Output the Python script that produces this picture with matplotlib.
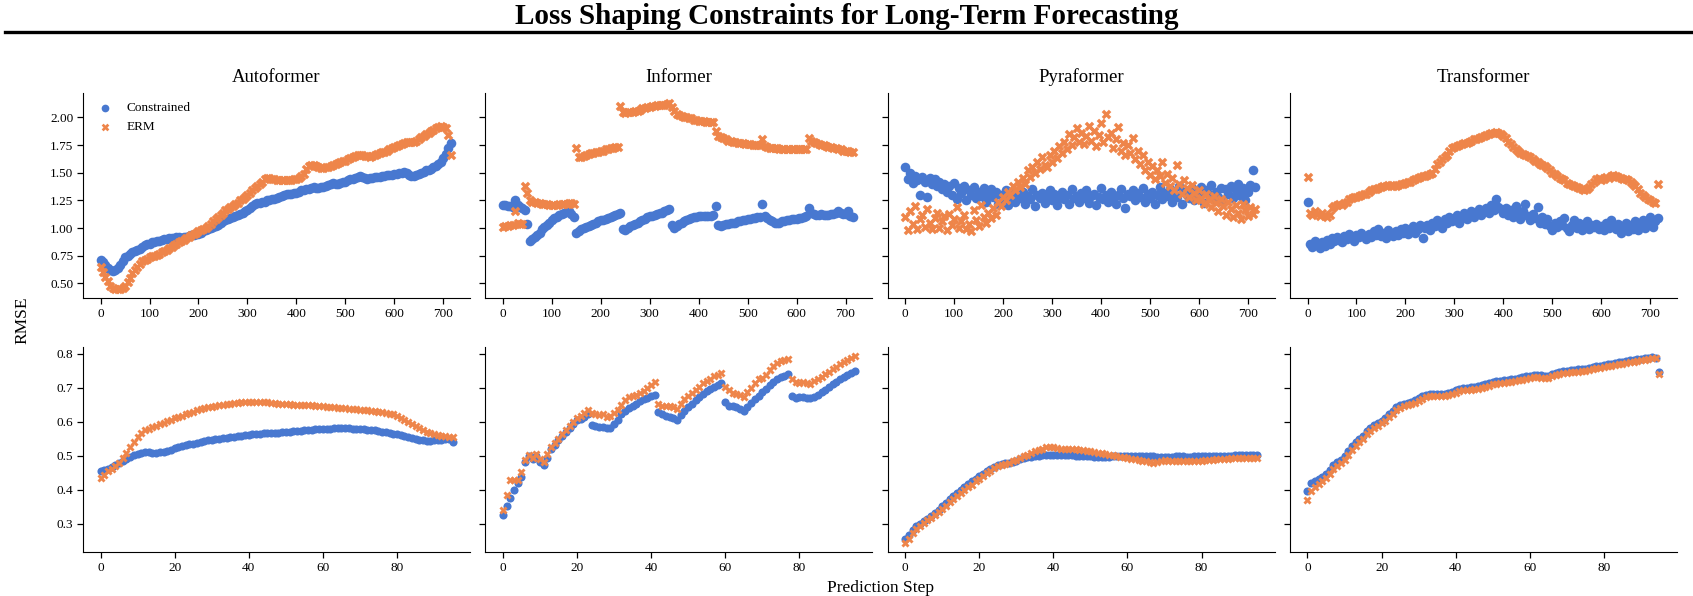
import numpy as np
import matplotlib
matplotlib.use("Agg")
import matplotlib.pyplot as plt
from matplotlib.lines import Line2D

plt.rcParams['font.family'] = ['Liberation Serif', 'DejaVu Serif']

# colours (seaborn "muted")
BLUE = "#4878d0"
ORANGE = "#ee854a"

models = ["Autoformer", "Informer", "Pyraformer", "Transformer"]

steps_long = np.arange(0, 720, 5)

af_long_con = [
    0.71, 0.69, 0.67, 0.64, 0.62, 0.61, 0.62, 0.64, 0.67, 0.70, 0.74, 0.75,
    0.77, 0.78, 0.79, 0.80, 0.81, 0.83, 0.85, 0.86, 0.86, 0.87, 0.87, 0.88,
    0.88, 0.89, 0.90, 0.90, 0.91, 0.91, 0.90, 0.92, 0.92, 0.91, 0.92, 0.92,
    0.93, 0.94, 0.94, 0.95, 0.95, 0.96, 0.97, 0.98, 0.99, 1.00, 1.01, 1.02,
    1.03, 1.05, 1.06, 1.07, 1.08, 1.09, 1.10, 1.11, 1.12, 1.13, 1.14, 1.15,
    1.16, 1.18, 1.20, 1.22, 1.23, 1.23, 1.24, 1.24, 1.25, 1.25, 1.26, 1.26,
    1.27, 1.28, 1.29, 1.30, 1.31, 1.31, 1.31, 1.32, 1.32, 1.33, 1.34, 1.34,
    1.35, 1.35, 1.36, 1.37, 1.36, 1.36, 1.37, 1.37, 1.38, 1.39, 1.40, 1.41,
    1.40, 1.40, 1.41, 1.42, 1.42, 1.43, 1.44, 1.44, 1.45, 1.46, 1.47, 1.46,
    1.45, 1.44, 1.45, 1.45, 1.46, 1.46, 1.46, 1.47, 1.47, 1.48, 1.48, 1.48,
    1.49, 1.49, 1.50, 1.50, 1.51, 1.50, 1.48, 1.47, 1.47, 1.48, 1.49, 1.50,
    1.51, 1.52, 1.52, 1.53, 1.55, 1.56, 1.58, 1.60, 1.63, 1.67, 1.72, 1.77,
]
af_long_erm = [
    0.65, 0.60, 0.56, 0.52, 0.48, 0.46, 0.45, 0.45, 0.45, 0.46, 0.48, 0.51,
    0.55, 0.59, 0.62, 0.65, 0.68, 0.70, 0.71, 0.72, 0.74, 0.75, 0.75, 0.76,
    0.77, 0.78, 0.79, 0.80, 0.82, 0.83, 0.85, 0.86, 0.87, 0.88, 0.89, 0.91,
    0.92, 0.94, 0.95, 0.96, 0.97, 0.98, 0.99, 1.00, 1.02, 1.04, 1.06, 1.08,
    1.10, 1.12, 1.14, 1.16, 1.17, 1.19, 1.20, 1.22, 1.23, 1.25, 1.26, 1.28,
    1.30, 1.32, 1.34, 1.36, 1.38, 1.40, 1.42, 1.44, 1.45, 1.45, 1.44, 1.44,
    1.43, 1.43, 1.43, 1.43, 1.43, 1.43, 1.43, 1.44, 1.44, 1.45, 1.47, 1.49,
    1.53, 1.56, 1.57, 1.57, 1.56, 1.55, 1.54, 1.54, 1.55, 1.55, 1.56, 1.57,
    1.58, 1.59, 1.60, 1.61, 1.61, 1.62, 1.63, 1.64, 1.65, 1.66, 1.66, 1.66,
    1.65, 1.65, 1.64, 1.65, 1.66, 1.67, 1.68, 1.69, 1.69, 1.70, 1.71, 1.72,
    1.73, 1.74, 1.75, 1.76, 1.77, 1.78, 1.78, 1.78, 1.78, 1.79, 1.80, 1.82,
    1.83, 1.85, 1.86, 1.88, 1.89, 1.90, 1.91, 1.92, 1.91, 1.90, 1.84, 1.66,
]

inf_long_con = [
    1.21, 1.21, 1.20, 1.20, 1.19, 1.25, 1.21, 1.19, 1.18, 1.16, 1.04, 0.88,
    0.90, 0.92, 0.94, 0.96, 0.99, 1.01, 1.03, 1.05, 1.07, 1.09, 1.10, 1.12,
    1.13, 1.14, 1.15, 1.15, 1.13, 1.10, 0.96, 0.97, 0.99, 1.00, 1.01, 1.02,
    1.03, 1.04, 1.05, 1.06, 1.07, 1.07, 1.08, 1.09, 1.10, 1.11, 1.12, 1.13,
    1.14, 0.99, 0.98, 1.00, 1.02, 1.03, 1.04, 1.05, 1.06, 1.07, 1.08, 1.10,
    1.11, 1.11, 1.12, 1.13, 1.14, 1.14, 1.15, 1.16, 1.17, 1.03, 1.00, 1.02,
    1.04, 1.05, 1.06, 1.07, 1.08, 1.09, 1.10, 1.10, 1.11, 1.11, 1.11, 1.11,
    1.11, 1.11, 1.12, 1.20, 1.03, 1.02, 1.03, 1.04, 1.04, 1.05, 1.05, 1.05,
    1.06, 1.06, 1.07, 1.07, 1.08, 1.08, 1.09, 1.09, 1.10, 1.10, 1.22, 1.11,
    1.09, 1.07, 1.06, 1.05, 1.05, 1.05, 1.06, 1.06, 1.07, 1.07, 1.08, 1.08,
    1.08, 1.09, 1.09, 1.10, 1.11, 1.18, 1.14, 1.13, 1.12, 1.12, 1.13, 1.12,
    1.12, 1.12, 1.13, 1.13, 1.14, 1.15, 1.14, 1.13, 1.13, 1.15, 1.11, 1.10,
]
inf_long_erm = [
    1.01, 1.02, 1.02, 1.03, 1.03, 1.15, 1.05, 1.04, 1.04, 1.38, 1.32, 1.25,
    1.24, 1.24, 1.23, 1.23, 1.22, 1.22, 1.22, 1.21, 1.21, 1.21, 1.21, 1.22,
    1.22, 1.22, 1.22, 1.23, 1.23, 1.22, 1.72, 1.64, 1.64, 1.65, 1.66, 1.67,
    1.68, 1.68, 1.69, 1.69, 1.70, 1.70, 1.71, 1.71, 1.72, 1.72, 1.73, 1.73,
    2.10, 2.05, 2.04, 2.05, 2.05, 2.05, 2.06, 2.06, 2.07, 2.08, 2.08, 2.09,
    2.09, 2.10, 2.10, 2.11, 2.11, 2.11, 2.11, 2.12, 2.13, 2.09, 2.06, 2.03,
    2.02, 2.01, 2.00, 2.00, 1.99, 1.99, 1.98, 1.98, 1.97, 1.97, 1.97, 1.96,
    1.96, 1.96, 1.96, 1.88, 1.83, 1.82, 1.81, 1.80, 1.79, 1.79, 1.78, 1.78,
    1.77, 1.77, 1.77, 1.76, 1.76, 1.76, 1.75, 1.75, 1.75, 1.75, 1.80, 1.74,
    1.73, 1.72, 1.72, 1.72, 1.72, 1.71, 1.71, 1.71, 1.71, 1.71, 1.71, 1.71,
    1.71, 1.71, 1.71, 1.71, 1.71, 1.81, 1.79, 1.78, 1.77, 1.76, 1.75, 1.75,
    1.74, 1.73, 1.73, 1.72, 1.72, 1.71, 1.71, 1.70, 1.70, 1.70, 1.69, 1.69,
]

pyr_long_con = [
    1.55, 1.44, 1.50, 1.41, 1.47, 1.43, 1.30, 1.46, 1.42, 1.28, 1.45, 1.40,
    1.44, 1.38, 1.42, 1.35, 1.40, 1.33, 1.38, 1.30, 1.41, 1.26, 1.36, 1.32,
    1.38, 1.25, 1.34, 1.30, 1.37, 1.27, 1.33, 1.29, 1.36, 1.24, 1.31, 1.35,
    1.28, 1.33, 1.22, 1.30, 1.26, 1.34, 1.21, 1.29, 1.32, 1.24, 1.30, 1.27,
    1.33, 1.22, 1.29, 1.26, 1.35, 1.20, 1.30, 1.27, 1.32, 1.23, 1.29, 1.34,
    1.25, 1.31, 1.21, 1.28, 1.33, 1.26, 1.30, 1.22, 1.35, 1.27, 1.29, 1.24,
    1.32, 1.27, 1.34, 1.23, 1.29, 1.31, 1.21, 1.28, 1.36, 1.26, 1.30, 1.24,
    1.33, 1.28, 1.22, 1.30, 1.35, 1.27, 1.18, 1.31, 1.29, 1.34, 1.25, 1.32,
    1.28, 1.36, 1.24, 1.31, 1.27, 1.33, 1.22, 1.30, 1.37, 1.26, 1.32, 1.29,
    1.35, 1.24, 1.31, 1.28, 1.38, 1.22, 1.33, 1.30, 1.27, 1.36, 1.25, 1.32,
    1.29, 1.37, 1.23, 1.34, 1.31, 1.39, 1.26, 1.33, 1.28, 1.36, 1.24, 1.35,
    1.31, 1.38, 1.27, 1.34, 1.40, 1.29, 1.36, 1.25, 1.33, 1.39, 1.52, 1.37,
]
pyr_long_erm = [
    1.10, 0.98, 1.15, 1.04, 1.20, 0.99, 1.08, 1.12, 1.01, 1.17, 1.05, 0.99,
    1.09, 1.14, 1.00, 1.06, 1.11, 0.98, 1.13, 1.03, 1.08, 1.19, 1.00, 1.06,
    1.12, 0.99, 1.04, 0.97, 1.16, 1.07, 1.02, 1.21, 1.10, 1.05, 1.14, 1.09,
    1.18, 1.12, 1.24, 1.20, 1.28, 1.25, 1.33, 1.30, 1.38, 1.34, 1.42, 1.37,
    1.45, 1.40, 1.52, 1.46, 1.55, 1.50, 1.60, 1.53, 1.64, 1.57, 1.55, 1.66,
    1.60, 1.70, 1.63, 1.74, 1.68, 1.78, 1.71, 1.85, 1.75, 1.82, 1.90, 1.78,
    1.86, 1.76, 1.83, 1.92, 1.79, 1.88, 1.74, 1.84, 1.95, 1.78, 2.03, 1.82,
    1.86, 1.72, 1.80, 1.91, 1.70, 1.77, 1.66, 1.75, 1.68, 1.81, 1.62, 1.70,
    1.58, 1.66, 1.52, 1.60, 1.48, 1.56, 1.44, 1.52, 1.47, 1.60, 1.41, 1.49,
    1.38, 1.45, 1.34, 1.57, 1.40, 1.31, 1.43, 1.36, 1.28, 1.39, 1.32, 1.25,
    1.34, 1.27, 1.22, 1.31, 1.25, 1.19, 1.29, 1.23, 1.15, 1.26, 1.20, 1.12,
    1.24, 1.17, 1.10, 1.21, 1.14, 1.08, 1.22, 1.16, 1.11, 1.19, 1.13, 1.17,
]

tr_long_con = [
    1.24, 0.86, 0.83, 0.88, 0.85, 0.82, 0.87, 0.84, 0.89, 0.86, 0.91, 0.88,
    0.92, 0.89, 0.87, 0.93, 0.90, 0.95, 0.91, 0.88, 0.94, 0.92, 0.96, 0.93,
    0.90, 0.95, 0.92, 0.97, 0.94, 0.99, 0.93, 0.96, 0.91, 0.98, 0.95, 0.93,
    0.97, 0.94, 0.99, 0.96, 1.00, 0.95, 0.98, 1.02, 0.96, 0.99, 1.03, 0.91,
    1.00, 1.03, 0.98, 1.05, 1.02, 1.07, 1.04, 1.00, 1.08, 1.05, 1.10, 1.06,
    1.09, 1.12, 1.05, 1.10, 1.14, 1.08, 1.12, 1.15, 1.10, 1.13, 1.17, 1.12,
    1.15, 1.18, 1.14, 1.21, 1.16, 1.26, 1.19, 1.17, 1.14, 1.18, 1.12, 1.16,
    1.10, 1.20, 1.13, 1.08, 1.15, 1.22, 1.11, 1.07, 1.13, 1.09, 1.19, 1.05,
    1.10, 1.04, 1.08, 1.02, 0.98, 1.05, 1.01, 1.06, 1.03, 1.09, 1.00, 0.97,
    1.03, 1.07, 1.00, 1.05, 0.98, 1.02, 1.06, 0.99, 1.03, 1.01, 1.04, 0.99,
    1.02, 0.98, 1.05, 1.00, 1.07, 1.02, 0.99, 1.04, 0.96, 1.01, 1.05, 0.97,
    1.03, 0.99, 1.06, 0.98, 1.02, 1.07, 1.00, 1.04, 1.10, 1.01, 1.06, 1.09,
]
tr_long_erm = [
    1.46, 1.14, 1.12, 1.15, 1.13, 1.11, 1.14, 1.12, 1.10, 1.12, 1.18, 1.20,
    1.21, 1.22, 1.21, 1.23, 1.24, 1.26, 1.27, 1.28, 1.28, 1.29, 1.30, 1.31,
    1.31, 1.33, 1.34, 1.35, 1.35, 1.36, 1.37, 1.38, 1.38, 1.39, 1.39, 1.38,
    1.38, 1.39, 1.40, 1.40, 1.41, 1.42, 1.42, 1.43, 1.44, 1.45, 1.46, 1.47,
    1.47, 1.48, 1.49, 1.50, 1.53, 1.58, 1.60, 1.62, 1.64, 1.66, 1.70, 1.72,
    1.73, 1.74, 1.75, 1.76, 1.77, 1.77, 1.78, 1.79, 1.80, 1.80, 1.81, 1.82,
    1.83, 1.84, 1.85, 1.86, 1.86, 1.87, 1.86, 1.85, 1.83, 1.81, 1.78, 1.76,
    1.73, 1.71, 1.70, 1.68, 1.67, 1.66, 1.65, 1.64, 1.62, 1.61, 1.60, 1.58,
    1.57, 1.56, 1.54, 1.52, 1.50, 1.49, 1.47, 1.45, 1.44, 1.43, 1.41, 1.40,
    1.39, 1.38, 1.37, 1.36, 1.35, 1.34, 1.35, 1.37, 1.40, 1.42, 1.44, 1.45,
    1.43, 1.44, 1.46, 1.45, 1.47, 1.48, 1.47, 1.46, 1.45, 1.44, 1.44, 1.43,
    1.42, 1.40, 1.38, 1.35, 1.32, 1.30, 1.28, 1.26, 1.25, 1.24, 1.23, 1.40,
]

# short horizon (96 steps), every step
steps_short = np.arange(96)

af_short_con = [
    0.455, 0.458, 0.462, 0.466, 0.472, 0.478, 0.484, 0.490, 0.496, 0.502,
    0.507, 0.510, 0.511, 0.511, 0.510, 0.510, 0.511, 0.512, 0.514, 0.518,
    0.522, 0.525, 0.528, 0.531, 0.534, 0.536, 0.539, 0.541, 0.544, 0.546,
    0.548, 0.549, 0.551, 0.552, 0.554, 0.555, 0.557, 0.558, 0.560, 0.561,
    0.562, 0.563, 0.564, 0.565, 0.566, 0.567, 0.567, 0.568, 0.568, 0.569,
    0.570, 0.571, 0.572, 0.573, 0.574, 0.575, 0.576, 0.577, 0.578, 0.579,
    0.579, 0.580, 0.580, 0.581, 0.581, 0.581, 0.581, 0.581, 0.580, 0.580,
    0.579, 0.578, 0.577, 0.576, 0.575, 0.573, 0.571, 0.569, 0.567, 0.565,
    0.563, 0.561, 0.558, 0.556, 0.553, 0.550, 0.548, 0.546, 0.545, 0.545,
    0.546, 0.547, 0.548, 0.549, 0.550, 0.540,
]
af_short_erm = [
    0.435, 0.445, 0.455, 0.462, 0.470, 0.480, 0.495, 0.510, 0.525, 0.540,
    0.555, 0.566, 0.575, 0.580, 0.585, 0.589, 0.593, 0.598, 0.602, 0.606,
    0.610, 0.614, 0.618, 0.622, 0.626, 0.630, 0.634, 0.638, 0.641, 0.643,
    0.645, 0.647, 0.649, 0.651, 0.652, 0.653, 0.655, 0.656, 0.657, 0.657,
    0.658, 0.658, 0.658, 0.658, 0.657, 0.657, 0.656, 0.655, 0.654, 0.653,
    0.652, 0.652, 0.651, 0.651, 0.650, 0.650, 0.649, 0.649, 0.648, 0.647,
    0.646, 0.645, 0.644, 0.643, 0.642, 0.641, 0.640, 0.639, 0.638, 0.637,
    0.636, 0.635, 0.634, 0.633, 0.632, 0.630, 0.628, 0.626, 0.624, 0.622,
    0.618, 0.612, 0.606, 0.600, 0.594, 0.588, 0.582, 0.576, 0.571, 0.567,
    0.564, 0.562, 0.560, 0.558, 0.557, 0.556,
]

inf_short_con = [
    0.327, 0.352, 0.375, 0.400, 0.419, 0.437, 0.482, 0.499, 0.492, 0.499,
    0.482, 0.472, 0.494, 0.519, 0.533, 0.546, 0.558, 0.570, 0.582, 0.595,
    0.605, 0.609, 0.615, 0.622, 0.592, 0.587, 0.585, 0.585, 0.582, 0.582,
    0.595, 0.607, 0.622, 0.631, 0.641, 0.648, 0.654, 0.661, 0.666, 0.671,
    0.675, 0.680, 0.629, 0.622, 0.617, 0.615, 0.610, 0.605, 0.619, 0.631,
    0.644, 0.654, 0.664, 0.674, 0.682, 0.690, 0.697, 0.703, 0.708, 0.713,
    0.658, 0.646, 0.646, 0.644, 0.638, 0.631, 0.644, 0.656, 0.668, 0.677,
    0.687, 0.697, 0.707, 0.717, 0.725, 0.731, 0.736, 0.740, 0.677, 0.671,
    0.673, 0.673, 0.671, 0.669, 0.673, 0.680, 0.688, 0.695, 0.703, 0.710,
    0.718, 0.725, 0.732, 0.738, 0.744, 0.749,
]
inf_short_erm = [
    0.340, 0.384, 0.428, 0.428, 0.430, 0.452, 0.489, 0.502, 0.494, 0.506,
    0.491, 0.481, 0.506, 0.525, 0.538, 0.550, 0.563, 0.576, 0.587, 0.599,
    0.610, 0.617, 0.626, 0.636, 0.626, 0.622, 0.620, 0.622, 0.615, 0.617,
    0.625, 0.634, 0.651, 0.664, 0.673, 0.676, 0.680, 0.685, 0.692, 0.700,
    0.708, 0.717, 0.654, 0.648, 0.646, 0.646, 0.644, 0.638, 0.654, 0.668,
    0.675, 0.685, 0.693, 0.703, 0.713, 0.720, 0.727, 0.734, 0.739, 0.744,
    0.703, 0.693, 0.685, 0.683, 0.678, 0.674, 0.687, 0.700, 0.715, 0.725,
    0.729, 0.739, 0.752, 0.764, 0.774, 0.778, 0.783, 0.786, 0.725, 0.717,
    0.715, 0.717, 0.715, 0.712, 0.720, 0.726, 0.733, 0.740, 0.748, 0.755,
    0.762, 0.769, 0.776, 0.782, 0.788, 0.793,
]

pyr_short_con = [
    0.256, 0.268, 0.283, 0.293, 0.300, 0.308, 0.316, 0.324, 0.332, 0.342,
    0.352, 0.362, 0.372, 0.382, 0.392, 0.401, 0.410, 0.418, 0.425, 0.433,
    0.440, 0.448, 0.455, 0.461, 0.467, 0.472, 0.475, 0.478, 0.480, 0.483,
    0.486, 0.490, 0.494, 0.496, 0.498, 0.499, 0.501, 0.503, 0.504, 0.504,
    0.504, 0.504, 0.503, 0.503, 0.502, 0.502, 0.501, 0.500, 0.500, 0.499,
    0.499, 0.498, 0.498, 0.497, 0.496, 0.497, 0.499, 0.500, 0.500, 0.499,
    0.499, 0.499, 0.500, 0.500, 0.500, 0.499, 0.501, 0.500, 0.498, 0.497,
    0.497, 0.498, 0.498, 0.499, 0.499, 0.499, 0.498, 0.498, 0.499, 0.500,
    0.500, 0.500, 0.499, 0.500, 0.501, 0.500, 0.500, 0.501, 0.501, 0.502,
    0.502, 0.502, 0.503, 0.503, 0.503, 0.504,
]
pyr_short_erm = [
    0.244, 0.256, 0.274, 0.285, 0.294, 0.303, 0.311, 0.319, 0.327, 0.336,
    0.344, 0.354, 0.364, 0.373, 0.382, 0.391, 0.400, 0.408, 0.416, 0.425,
    0.433, 0.442, 0.450, 0.457, 0.464, 0.470, 0.474, 0.477, 0.480, 0.484,
    0.487, 0.493, 0.499, 0.504, 0.509, 0.514, 0.518, 0.521, 0.525, 0.526,
    0.525, 0.522, 0.519, 0.520, 0.521, 0.521, 0.520, 0.518, 0.517, 0.515,
    0.514, 0.512, 0.510, 0.508, 0.506, 0.504, 0.502, 0.500, 0.498, 0.496,
    0.494, 0.492, 0.490, 0.488, 0.486, 0.484, 0.482, 0.480, 0.483, 0.486,
    0.487, 0.486, 0.485, 0.485, 0.484, 0.484, 0.485, 0.486, 0.486, 0.486,
    0.486, 0.487, 0.488, 0.489, 0.490, 0.490, 0.491, 0.492, 0.493, 0.493,
    0.494, 0.494, 0.494, 0.494, 0.494, 0.494,
]

tr_short_con = [
    0.398, 0.420, 0.427, 0.432, 0.437, 0.448, 0.460, 0.473, 0.481, 0.489,
    0.499, 0.514, 0.528, 0.540, 0.550, 0.560, 0.573, 0.582, 0.590, 0.597,
    0.604, 0.612, 0.622, 0.633, 0.644, 0.649, 0.653, 0.656, 0.659, 0.664,
    0.669, 0.675, 0.680, 0.682, 0.683, 0.683, 0.683, 0.683, 0.685, 0.688,
    0.693, 0.697, 0.700, 0.700, 0.702, 0.703, 0.705, 0.707, 0.710, 0.713,
    0.717, 0.719, 0.721, 0.722, 0.723, 0.725, 0.727, 0.729, 0.731, 0.734,
    0.736, 0.738, 0.739, 0.737, 0.736, 0.736, 0.742, 0.745, 0.748, 0.750,
    0.751, 0.752, 0.753, 0.754, 0.755, 0.756, 0.758, 0.760, 0.763, 0.765,
    0.767, 0.769, 0.771, 0.773, 0.775, 0.777, 0.779, 0.781, 0.783, 0.785,
    0.786, 0.788, 0.789, 0.790, 0.787, 0.746,
]
tr_short_erm = [
    0.370, 0.398, 0.408, 0.418, 0.426, 0.436, 0.448, 0.461, 0.471, 0.480,
    0.489, 0.503, 0.517, 0.530, 0.541, 0.551, 0.563, 0.573, 0.581, 0.589,
    0.596, 0.603, 0.613, 0.624, 0.635, 0.641, 0.646, 0.649, 0.652, 0.656,
    0.661, 0.667, 0.672, 0.675, 0.676, 0.676, 0.676, 0.676, 0.678, 0.681,
    0.686, 0.690, 0.693, 0.693, 0.694, 0.696, 0.698, 0.700, 0.703, 0.706,
    0.710, 0.712, 0.714, 0.715, 0.716, 0.718, 0.720, 0.722, 0.724, 0.727,
    0.729, 0.731, 0.732, 0.730, 0.729, 0.730, 0.736, 0.739, 0.742, 0.744,
    0.745, 0.746, 0.747, 0.748, 0.749, 0.750, 0.752, 0.754, 0.757, 0.759,
    0.761, 0.763, 0.765, 0.767, 0.769, 0.771, 0.773, 0.775, 0.777, 0.779,
    0.781, 0.783, 0.785, 0.787, 0.788, 0.740,
]

long_con = [af_long_con, inf_long_con, pyr_long_con, tr_long_con]
long_erm = [af_long_erm, inf_long_erm, pyr_long_erm, tr_long_erm]
short_con = [af_short_con, inf_short_con, pyr_short_con, tr_short_con]
short_erm = [af_short_erm, inf_short_erm, pyr_short_erm, tr_short_erm]

fig, axes = plt.subplots(2, 4, figsize=(16.93, 5.96), dpi=100, sharey='row')
fig.subplots_adjust(left=0.049, right=0.9906, bottom=0.074, top=0.844,
                    wspace=0.039, hspace=0.24)

for col, name in enumerate(models):
    ax = axes[0, col]
    ax.scatter(steps_long, long_con[col], s=48, marker='o', color=BLUE,
               linewidths=0, label="Constrained", zorder=3)
    ax.scatter(steps_long, long_erm[col], s=48, marker='X', color=ORANGE,
               linewidths=0, label="ERM", zorder=3)
    ax.set_title(name, fontsize=13.5, pad=8)
    ax.set_xlim(-36, 755)
    ax.set_xticks(range(0, 701, 100))

    ax = axes[1, col]
    ax.scatter(steps_short, short_con[col], s=34, marker='o', color=BLUE,
               linewidths=0, zorder=3)
    ax.scatter(steps_short, short_erm[col], s=34, marker='X', color=ORANGE,
               linewidths=0, zorder=3)
    ax.set_xlim(-4.75, 99.75)
    ax.set_xticks(range(0, 81, 20))

axes[0, 0].set_ylim(0.37, 2.22)
axes[0, 0].set_yticks([0.5, 0.75, 1.0, 1.25, 1.5, 1.75, 2.0])
axes[0, 0].set_yticklabels(["0.50", "0.75", "1.00", "1.25", "1.50", "1.75", "2.00"])
axes[1, 0].set_ylim(0.218, 0.82)
axes[1, 0].set_yticks([0.3, 0.4, 0.5, 0.6, 0.7, 0.8])
axes[1, 0].set_yticklabels(["0.3", "0.4", "0.5", "0.6", "0.7", "0.8"])

for ax in axes.flat:
    ax.spines['top'].set_visible(False)
    ax.spines['right'].set_visible(False)
    ax.tick_params(labelsize=9.5, length=4, width=0.9, pad=3)

axes[0, 0].legend(loc='upper left', frameon=False, fontsize=9.5,
                  handletextpad=0.6, borderaxespad=0.3, markerscale=0.8)

fig.text(0.5, 0.972, "Loss Shaping Constraints for Long-Term Forecasting",
         ha='center', va='center', fontsize=21, fontweight='bold')
fig.add_artist(Line2D([0.003, 1.0], [0.947, 0.947], color='black', lw=2.4,
                      transform=fig.transFigure))
fig.text(0.013, 0.463, "RMSE", rotation=90, ha='center', va='center', fontsize=12.5)
fig.text(0.52, 0.014, "Prediction Step", ha='center', va='center', fontsize=12.5)

fig.savefig("out.png", dpi=100)
